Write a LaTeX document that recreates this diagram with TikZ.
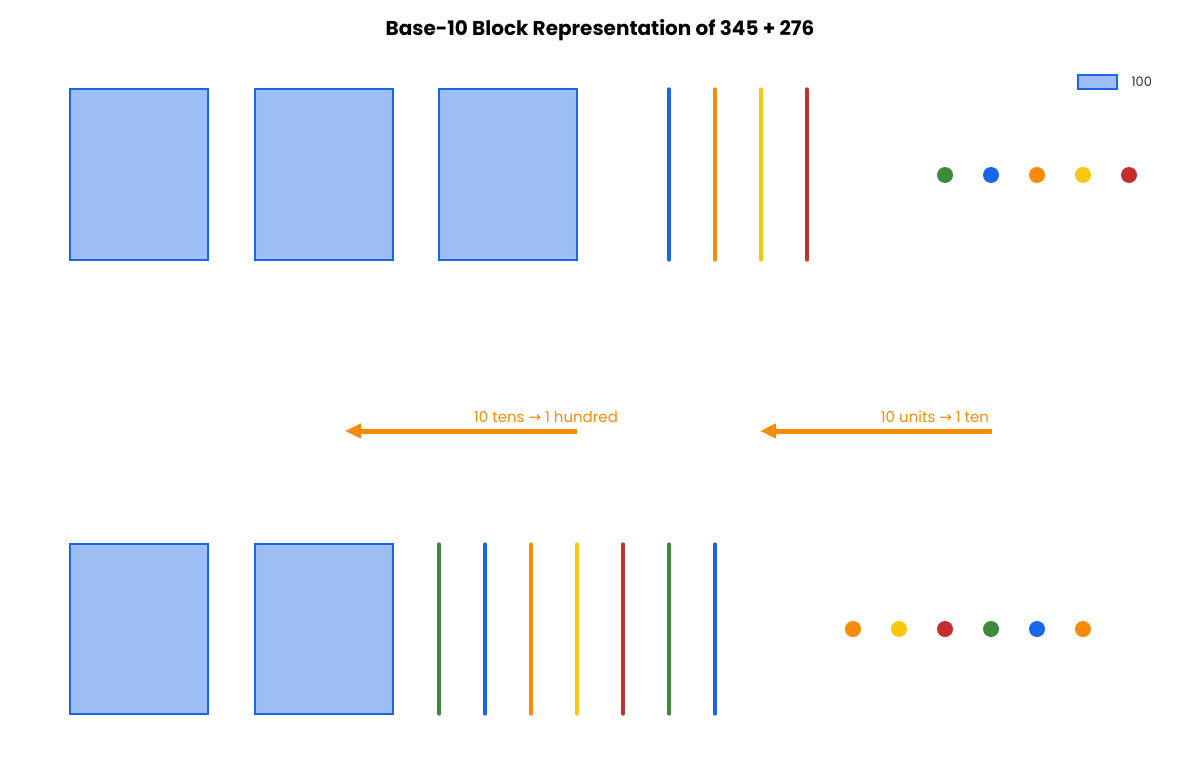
\documentclass[tikz,border=0pt]{standalone}
\usepackage{fontspec}
\setmainfont{Poppins}
\newfontfamily\djv{DejaVu Sans}
\usetikzlibrary{arrows.meta}
\definecolor{gblue}{HTML}{1A66E8}
\definecolor{gfill}{HTML}{9CBEF5}
\definecolor{gorange}{HTML}{F98B0A}
\definecolor{gyellow}{HTML}{F9C80E}
\definecolor{gred}{HTML}{C62F2F}
\definecolor{ggreen}{HTML}{3F8A3A}
\tikzset{
 hund/.style={draw=gblue,fill=gfill,line width=1.6pt},
 ten/.style={line width=3.2pt,line cap=round},
 unit/.style={circle,inner sep=0pt,minimum size=16pt},
 carry/.style={draw=gorange,line width=5pt,-{Triangle[length=16pt,width=14pt]}},
 clabel/.style={text=gorange,font=\fontsize{15}{18}\selectfont}
}
\begin{document}
\begin{tikzpicture}[x=1pt,y=-1pt]
\useasboundingbox (0,0) rectangle (1200,763);
\node (title) at (600,30) {\fontsize{20}{24}\selectfont\bfseries Base-10 Block Representation of 345 + 276};
% legend
\draw[hund,line width=1.4pt] (1078,75) rectangle (1117,89);
\node[anchor=west,font=\fontsize{13}{16}\selectfont,text=black!80] (leg) at (1128,82) {100};
% top
\foreach \x in {70,255,439} \draw[hund] (\x,89) rectangle ++(138,171);
\foreach \x/\c in {669/gblue,715/gorange,761/gyellow,807/gred} \draw[ten,\c] (\x,89) -- (\x,260);
\foreach \x/\c [count=\i] in {945/ggreen,991/gblue,1037/gorange,1083/gyellow,1129/gred} \node[unit,fill=\c] (t\i) at (\x,175) {};
% arrows
\coordinate (a1s) at (577,431); \coordinate (a1e) at (345,431);
\coordinate (a2s) at (992,431); \coordinate (a2e) at (760,431);
\draw[carry] (a1s) -- (a1e);
\draw[carry] (a2s) -- (a2e);
\node[clabel] (l1) at (546,417) {10 tens {\djv →} 1 hundred};
\node[clabel] (l2) at (935,417) {10 units {\djv →} 1 ten};
% bottom
\foreach \x in {70,255} \draw[hund] (\x,544) rectangle ++(138,170);
\foreach \x/\c in {439/ggreen,485/gblue,531/gorange,577/gyellow,623/gred,669/ggreen,715/gblue} \draw[ten,\c] (\x,544) -- (\x,714);
\foreach \x/\c [count=\i] in {853/gorange,899/gyellow,945/gred,991/ggreen,1037/gblue,1083/gorange} \node[unit,fill=\c] (b\i) at (\x,629) {};
\end{tikzpicture}
\end{document}
